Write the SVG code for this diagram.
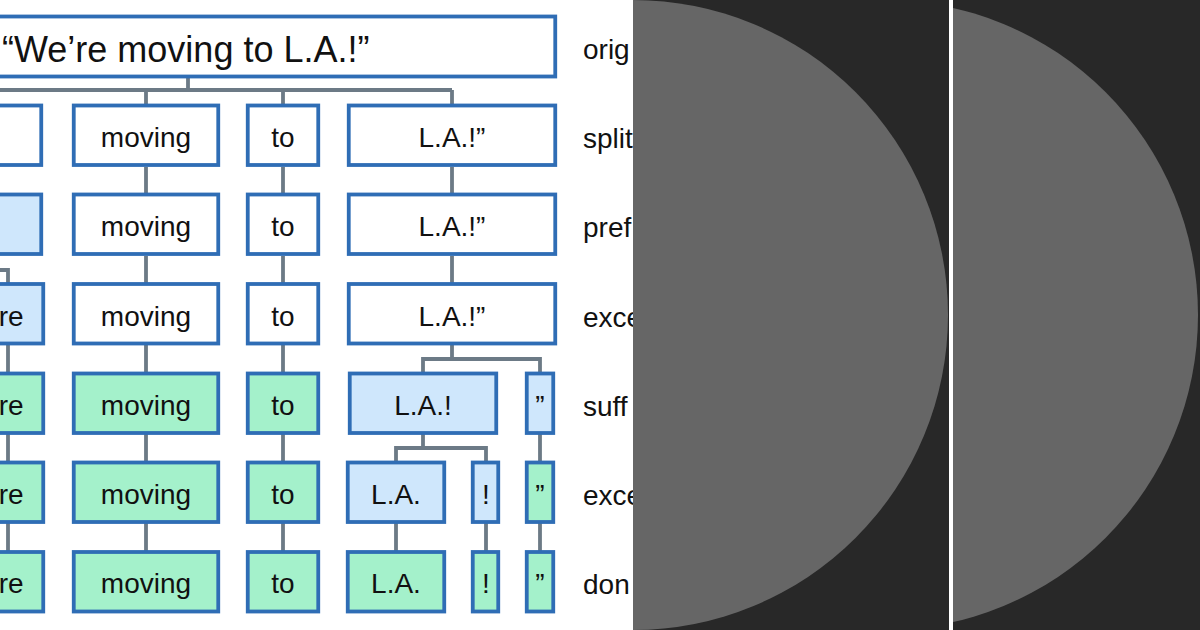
<svg xmlns="http://www.w3.org/2000/svg" width="1200" height="630" viewBox="0 0 1200 630">
<style>
.b{stroke:#2f6db5;stroke-width:3.8;}
.w{fill:#ffffff;}
.l{fill:#cfe7fc;}
.g{fill:#a4f1cb;}
.t{font-family:"Liberation Sans",Arial,sans-serif;font-size:28px;fill:#111;text-anchor:middle;}
.lab{font-family:"Liberation Sans",Arial,sans-serif;font-size:28px;fill:#111;}
.c{stroke:#6c7a86;stroke-width:3.8;fill:none;}
</style>
<rect x="0" y="0" width="1200" height="630" fill="#ffffff"/>
<g id="connectors">
<path class="c" d="M188 78 V90 M-50 90 H452 M146 90 V104 M283 90 V104 M452 90 V104"/>
<path class="c" d="M146 167 V193 M146 256 V283 M146 345 V372 M146 434 V461 M146 523 V551"/>
<path class="c" d="M283 167 V193 M283 256 V283 M283 345 V372 M283 434 V461 M283 523 V551"/>
<path class="c" d="M452 167 V193 M452 256 V283 M452 345 V359 M423 372 V359 H540 V372"/>
<path class="c" d="M423 434 V448 M396 461 V448 H486 V461 M540 434 V461 M396 523 V551 M486 523 V551 M540 523 V551"/>
<path class="c" d="M-50 270 H8 V283 M8 345 V372 M8 434 V461 M8 523 V551"/>
</g>
<g id="n-original">
<rect class="b w" x="-200" y="16.5" width="755.25" height="60"/>
<text x="2" y="62" font-family="Liberation Sans, Arial, sans-serif" font-size="36" fill="#111">“We’re moving to L.A.!”</text>
</g>
<g id="n-a2"><rect class="b w" x="-100" y="105.5" width="141.25" height="59.5"/></g>
<g id="n-a3"><rect class="b l" x="-100" y="194.5" width="141.25" height="59.5"/></g>
<g id="n-a4"><rect class="b l" x="-29" y="284" width="72.25" height="59.5"/><text class="t" x="8" y="325.5">’re</text></g>
<g id="n-a5"><rect class="b g" x="-29" y="373.5" width="72.25" height="59.5"/><text class="t" x="8" y="414.5">’re</text></g>
<g id="n-a6"><rect class="b g" x="-29" y="462.5" width="72.25" height="59.5"/><text class="t" x="8" y="503.5">’re</text></g>
<g id="n-a7"><rect class="b g" x="-29" y="552" width="72.25" height="59.5"/><text class="t" x="8" y="593">’re</text></g>

<g id="n-b2"><rect class="b w" x="73.75" y="105.5" width="144.5" height="59.5"/><text class="t" x="146" y="147">moving</text></g>
<g id="n-b3"><rect class="b w" x="73.75" y="194.5" width="144.5" height="59.5"/><text class="t" x="146" y="236">moving</text></g>
<g id="n-b4"><rect class="b w" x="73.75" y="284" width="144.5" height="59.5"/><text class="t" x="146" y="325.5">moving</text></g>
<g id="n-b5"><rect class="b g" x="73.75" y="373.5" width="144.5" height="59.5"/><text class="t" x="146" y="414.5">moving</text></g>
<g id="n-b6"><rect class="b g" x="73.75" y="462.5" width="144.5" height="59.5"/><text class="t" x="146" y="503.5">moving</text></g>
<g id="n-b7"><rect class="b g" x="73.75" y="552" width="144.5" height="59.5"/><text class="t" x="146" y="593">moving</text></g>

<g id="n-c2"><rect class="b w" x="247.75" y="105.5" width="70.5" height="59.5"/><text class="t" x="283" y="147">to</text></g>
<g id="n-c3"><rect class="b w" x="247.75" y="194.5" width="70.5" height="59.5"/><text class="t" x="283" y="236">to</text></g>
<g id="n-c4"><rect class="b w" x="247.75" y="284" width="70.5" height="59.5"/><text class="t" x="283" y="325.5">to</text></g>
<g id="n-c5"><rect class="b g" x="247.75" y="373.5" width="70.5" height="59.5"/><text class="t" x="283" y="414.5">to</text></g>
<g id="n-c6"><rect class="b g" x="247.75" y="462.5" width="70.5" height="59.5"/><text class="t" x="283" y="503.5">to</text></g>
<g id="n-c7"><rect class="b g" x="247.75" y="552" width="70.5" height="59.5"/><text class="t" x="283" y="593">to</text></g>

<g id="n-d2"><rect class="b w" x="348.75" y="105.5" width="206.5" height="59.5"/><text class="t" x="452" y="147">L.A.!”</text></g>
<g id="n-d3"><rect class="b w" x="348.75" y="194.5" width="206.5" height="59.5"/><text class="t" x="452" y="236">L.A.!”</text></g>
<g id="n-d4"><rect class="b w" x="348.75" y="284" width="206.5" height="59.5"/><text class="t" x="452" y="325.5">L.A.!”</text></g>
<g id="n-d5"><rect class="b l" x="349.75" y="373.5" width="146.5" height="59.5"/><text class="t" x="423" y="414.5">L.A.!</text></g>
<g id="n-q5"><rect class="b l" x="526.75" y="373.5" width="26.5" height="59.5"/><text class="t" x="540" y="414.5">”</text></g>
<g id="n-d6"><rect class="b l" x="347.75" y="462.5" width="96.5" height="59.5"/><text class="t" x="396" y="503.5">L.A.</text></g>
<g id="n-e6"><rect class="b l" x="472.75" y="462.5" width="25.5" height="59.5"/><text class="t" x="486" y="503.5">!</text></g>
<g id="n-q6"><rect class="b g" x="526.75" y="462.5" width="26.5" height="59.5"/><text class="t" x="540" y="503.5">”</text></g>
<g id="n-d7"><rect class="b g" x="347.75" y="552" width="96.5" height="59.5"/><text class="t" x="396" y="593">L.A.</text></g>
<g id="n-e7"><rect class="b g" x="472.75" y="552" width="25.5" height="59.5"/><text class="t" x="486" y="593">!</text></g>
<g id="n-q7"><rect class="b g" x="526.75" y="552" width="26.5" height="59.5"/><text class="t" x="540" y="593">”</text></g>

<g id="labels">
<text class="lab" x="583" y="59">orig</text>
<text class="lab" x="583" y="148">split</text>
<text class="lab" x="583" y="237">pref</text>
<text class="lab" x="583" y="326.5">exce</text>
<text class="lab" x="583" y="415.5">suff</text>
<text class="lab" x="583" y="504.5">exce</text>
<text class="lab" x="583" y="594">don</text>
</g>
<defs>
<clipPath id="p1"><rect x="633" y="0" width="316" height="630"/></clipPath>
<clipPath id="p2"><rect x="953" y="0" width="247" height="630"/></clipPath>
</defs>
<g id="panel1">
<rect x="633" y="0" width="316" height="630" fill="#282828"/>
<circle cx="633" cy="315" r="315" fill="#666666" clip-path="url(#p1)"/>
</g>
<g id="panel2">
<rect x="953" y="0" width="247" height="630" fill="#282828"/>
<circle cx="883" cy="315" r="315" fill="#666666" clip-path="url(#p2)"/>
</g>
</svg>
